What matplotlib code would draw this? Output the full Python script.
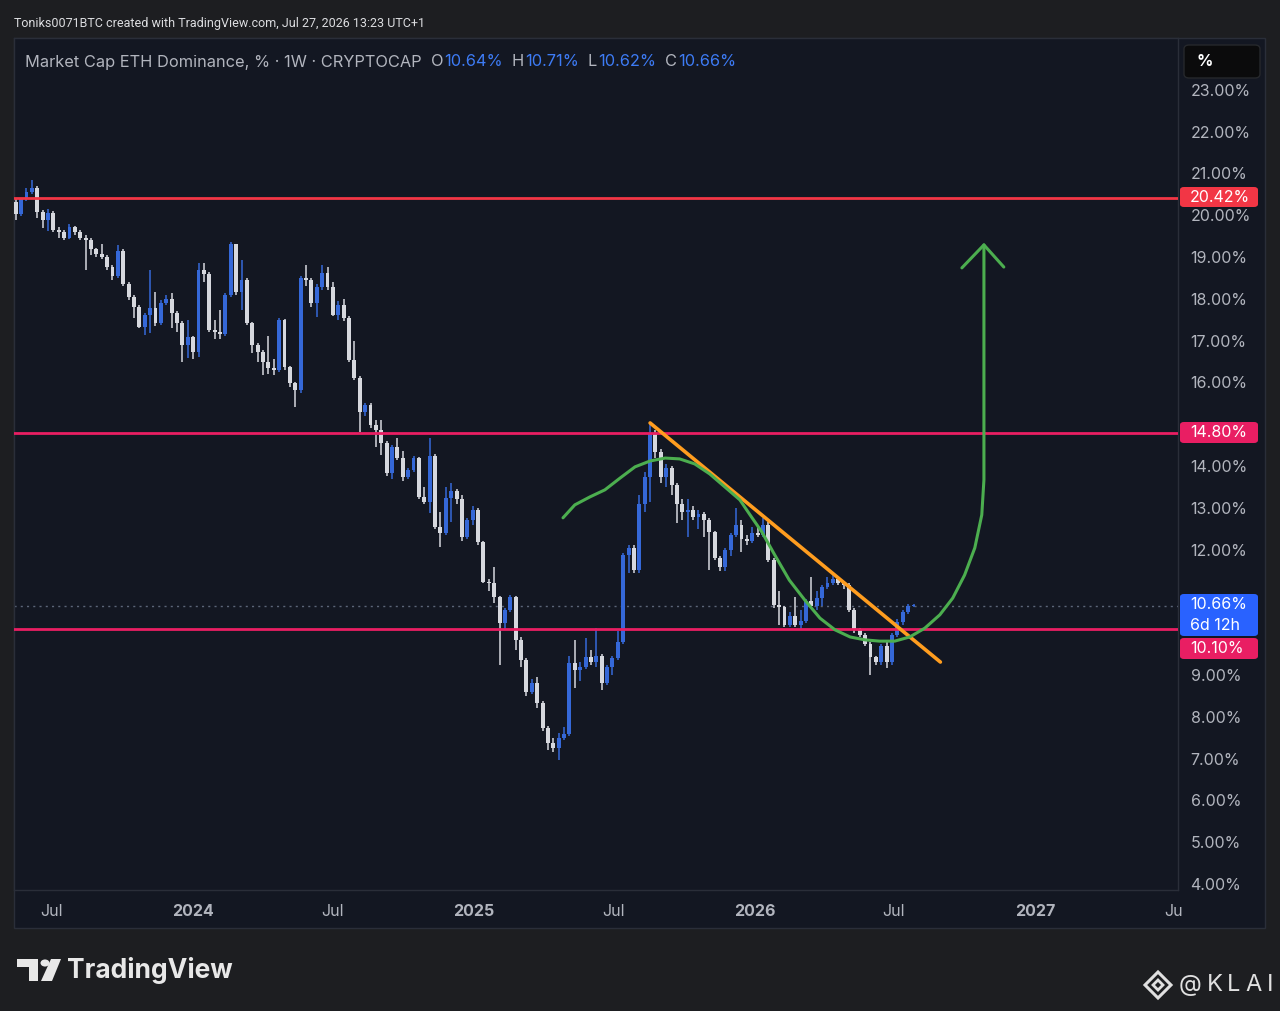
import datetime as dt
import matplotlib
matplotlib.use('Agg')
import matplotlib.pyplot as plt
import matplotlib.dates as mdates
from matplotlib.patches import Rectangle, FancyBboxPatch, Polygon, Circle

W, H = 1280, 1011
plt.rcParams['font.family'] = ['Inter', 'DejaVu Sans']

# weekly candles of ETH dominance (%), first week starts Monday 2023-05-15
first_week = dt.date(2023, 5, 15)
first_open = 20.32
closes = [
    20.04, 20.38, 20.55, 20.65, 20.08, 19.88, 20.05, 19.65, 19.60, 19.45,
    19.72, 19.60, 19.45, 19.40, 19.20, 19.08, 19.00, 18.75, 18.55, 19.14,
    18.35, 18.04, 17.80, 17.33, 17.61, 17.78, 17.42, 17.90, 18.00, 17.66,
    17.42, 16.90, 17.08, 16.73, 18.69, 18.60, 17.25, 17.20, 17.15, 18.10,
    19.30, 18.16, 18.45, 17.42, 16.90, 16.73, 16.49, 16.35, 16.30, 17.50,
    16.37, 15.98, 15.82, 18.50, 18.45, 17.90, 18.28, 18.62, 18.28, 17.61,
    17.85, 17.54, 16.54, 16.10, 15.29, 15.45, 14.98, 14.85, 14.55, 13.83,
    14.45, 14.20, 13.74, 13.90, 14.20, 13.26, 13.14, 14.24, 12.54, 12.40,
    13.23, 13.40, 13.20, 12.30, 12.70, 12.95, 12.18, 11.22, 11.20, 10.87,
    10.24, 10.55, 10.87, 9.84, 9.36, 8.60, 8.80, 8.33, 7.73, 7.37,
    7.25, 7.50, 7.60, 9.29, 9.12, 9.20, 9.43, 9.30, 9.45, 8.80,
    9.20, 9.40, 9.80, 11.87, 12.05, 11.52, 13.10, 13.74, 14.80, 14.33,
    13.74, 13.95, 13.55, 13.10, 12.90, 12.95, 12.78, 12.85, 12.70, 12.42,
    11.80, 11.58, 11.99, 12.35, 12.60, 12.25, 12.20, 12.40, 12.35, 12.60,
    11.75, 10.68, 10.62, 10.20, 10.40, 10.20, 10.30, 10.78, 10.66, 10.85,
    11.10, 11.20, 11.30, 11.20, 11.15, 10.55, 10.08, 9.95, 9.75, 9.43,
    9.30, 9.70, 9.30, 9.95, 10.27, 10.50, 10.64, 10.66,
]
highs = [
    20.41, 20.42, 20.65, 20.84, 20.70, 20.12, 20.15, 20.10, 19.72, 19.65,
    19.78, 19.75, 19.65, 19.52, 19.45, 19.22, 19.30, 19.05, 18.80, 19.29,
    19.20, 18.40, 18.08, 17.85, 17.66, 18.69, 18.16, 17.98, 18.10, 18.14,
    17.70, 17.46, 17.49, 17.12, 18.86, 18.86, 18.65, 17.50, 17.73, 18.15,
    19.35, 19.30, 18.93, 18.50, 17.45, 16.95, 16.78, 17.10, 16.55, 17.55,
    17.52, 16.40, 16.02, 18.55, 18.80, 18.50, 18.35, 18.81, 18.75, 18.40,
    17.95, 18.00, 17.58, 17.00, 16.15, 15.50, 15.50, 15.10, 15.10, 14.60,
    14.50, 14.67, 14.35, 13.95, 14.25, 14.22, 13.50, 14.67, 14.28, 12.90,
    13.50, 13.60, 13.45, 13.30, 12.75, 13.05, 13.00, 12.20, 11.30, 11.58,
    10.90, 10.60, 10.92, 10.90, 9.90, 9.40, 8.90, 8.95, 8.38, 7.78,
    7.50, 7.62, 7.75, 9.45, 9.84, 9.30, 9.88, 9.60, 10.12, 9.50,
    9.25, 9.45, 10.05, 11.92, 12.10, 12.10, 13.30, 13.85, 15.03, 14.85,
    14.40, 14.05, 14.00, 13.60, 13.20, 13.20, 13.05, 12.95, 12.90, 12.75,
    12.45, 11.85, 12.05, 12.40, 13.00, 12.70, 12.35, 12.55, 12.60, 12.75,
    12.65, 11.80, 11.00, 10.65, 10.50, 10.87, 10.55, 10.82, 11.34, 11.00,
    11.15, 11.35, 11.44, 11.35, 11.25, 11.20, 10.60, 10.12, 10.00, 9.80,
    9.45, 9.75, 9.80, 10.00, 10.35, 10.55, 10.70, 10.71,
]
lows = [
    19.88, 19.98, 20.33, 20.50, 19.93, 19.69, 19.62, 19.60, 19.45, 19.40,
    19.42, 19.52, 19.40, 18.69, 19.05, 19.00, 18.95, 18.70, 18.45, 18.50,
    18.30, 17.98, 17.54, 17.30, 17.13, 17.18, 17.36, 17.38, 17.85, 17.30,
    17.20, 16.49, 16.58, 16.55, 16.60, 18.40, 17.20, 17.05, 17.05, 17.10,
    18.05, 18.10, 17.73, 17.38, 16.70, 16.49, 16.18, 16.20, 16.18, 16.25,
    16.30, 15.90, 15.41, 15.75, 18.30, 17.80, 17.56, 18.20, 18.22, 17.58,
    17.50, 17.48, 16.50, 16.05, 14.81, 15.20, 14.92, 14.45, 14.26, 13.75,
    13.70, 14.15, 13.65, 13.70, 13.85, 13.20, 13.10, 12.88, 12.50, 12.06,
    12.35, 12.66, 13.10, 12.20, 12.25, 12.60, 12.10, 11.20, 11.00, 10.72,
    9.24, 10.10, 10.50, 9.60, 9.20, 8.50, 8.55, 8.20, 7.65, 7.20,
    7.15, 6.97, 7.45, 7.55, 8.70, 8.85, 9.15, 9.25, 9.20, 8.64,
    8.75, 9.00, 9.35, 9.75, 11.45, 11.45, 11.45, 12.90, 13.14, 14.20,
    13.60, 13.50, 13.30, 12.64, 12.70, 12.30, 12.70, 12.50, 12.30, 11.51,
    11.75, 11.50, 11.50, 11.85, 12.30, 11.95, 12.10, 12.15, 12.30, 12.30,
    11.70, 10.60, 10.20, 10.15, 10.15, 10.15, 10.10, 10.25, 10.60, 10.55,
    10.65, 11.05, 11.15, 11.15, 11.05, 10.50, 10.00, 9.90, 9.70, 9.00,
    9.25, 9.25, 9.17, 9.25, 9.90, 10.20, 10.45, 10.62,
]
opens = [first_open] + closes[:-1]

levels = [20.42, 14.80, 10.10]
level_colors = ['#f23645', '#e91e63', '#e91e63']
last_price = 10.66
last_ohlc = ['10.64%', '10.71%', '10.62%', '10.66%']

# drawn annotations (week index, value)
trend_weeks = [118, 172]
trend_values = [15.03, 9.31]
curve_weeks = [101.8, 104.0, 106.8, 109.6, 112.4, 115.2, 118.0, 120.8, 123.5, 126.3,
               129.1, 131.9, 134.7, 136.6, 138.8, 141.2, 143.9, 146.8, 149.6, 152.4,
               155.2, 158.0, 160.7, 163.5, 166.3, 169.1, 171.9, 174.3, 176.5, 178.4,
               179.7, 180.1, 180.1]
curve_values = [12.76, 13.07, 13.26, 13.43, 13.71, 13.98, 14.12, 14.19, 14.17, 14.05,
                13.81, 13.50, 13.19, 12.83, 12.42, 11.87, 11.27, 10.79, 10.36, 10.08,
                9.91, 9.84, 9.81, 9.81, 9.91, 10.12, 10.44, 10.84, 11.39, 12.04,
                12.83, 13.67, 19.29]
arrow_weeks = [176.0, 180.1, 183.8]
arrow_values = [18.74, 19.29, 18.76]

# 10, 11 and 15 sit under the price labels
y_ticks = [4, 5, 6, 7, 8, 9, 12, 13, 14, 16, 17, 18, 19, 20, 21, 22, 23]
x_tick_dates = [dt.date(2023, 7, 1), dt.date(2024, 1, 1), dt.date(2024, 7, 1),
                dt.date(2025, 1, 1), dt.date(2025, 7, 1), dt.date(2026, 1, 1),
                dt.date(2026, 7, 1), dt.date(2027, 1, 1), dt.date(2027, 7, 1)]
x_tick_labels = ['Jul', '2024', 'Jul', '2025', 'Jul', '2026', 'Jul', '2027', 'Ju']

BG = '#1d1e21'
PANEL = '#131722'
TXT = '#b2b5be'
UP = '#3568d8'
DOWN = '#d6d8de'


def fx(x):
    return x / W


def fy(y):
    return 1 - y / H


d0 = mdates.date2num(first_week)


def wk(i):
    return d0 + 7 * i


fig = plt.figure(figsize=(W / 100, H / 100), dpi=100, facecolor=BG)
fig.patches.append(Rectangle((fx(14), fy(928)), fx(1265 - 14), (928 - 38) / H,
                             transform=fig.transFigure, facecolor=PANEL,
                             edgecolor='#2a2e39', lw=1, zorder=-5))

ax = fig.add_axes([fx(14), fy(890), fx(1178 - 14), (890 - 38) / H])
ax.set_zorder(1)
ax.set_facecolor(PANEL)
for s in ax.spines.values():
    s.set_color('#2a2e39')
    s.set_linewidth(1)

cols = [UP if c >= o else DOWN for o, c in zip(opens, closes)]
xs = [wk(i) for i in range(len(closes))]
ax.vlines(xs, lows, highs, colors=cols, lw=1.1, zorder=3)
ax.bar(xs, [max(abs(c - o), 0.03) for o, c in zip(opens, closes)],
       bottom=[min(o, c) for o, c in zip(opens, closes)], width=5.1,
       color=cols, lw=0, zorder=4)

for lv, col in zip(levels, level_colors):
    ax.axhline(lv, color=col, lw=2, zorder=5)
ax.axhline(last_price, color='#5b6578', lw=1, ls=(0, (1.5, 3)), zorder=2)

ax.plot([wk(i) for i in trend_weeks], trend_values, color='#ff9d1f', lw=2.6,
        solid_capstyle='round', zorder=6)
ax.plot([wk(i) for i in curve_weeks], curve_values, color='#4cae4f', lw=2.2,
        solid_capstyle='round', solid_joinstyle='round', zorder=6)
ax.plot([wk(i) for i in arrow_weeks], arrow_values, color='#4cae4f', lw=2.2,
        solid_capstyle='round', solid_joinstyle='round', zorder=6)

ax.set_xlim(wk(-0.32), wk(216.2))
ax.set_ylim(3.856, 24.24)

ax.yaxis.tick_right()
ax.set_yticks(y_ticks)
ax.set_yticklabels(['%.2f%%' % v for v in y_ticks])
ax.tick_params(axis='y', length=0, pad=9, labelsize=11.5, labelcolor=TXT)
ax.set_xticks([mdates.date2num(d) for d in x_tick_dates])
ax.set_xticklabels(x_tick_labels)
ax.tick_params(axis='x', length=0, pad=10, labelsize=11.5, labelcolor=TXT)
for lab in ax.get_xticklabels():
    if lab.get_text().isdigit():
        lab.set_fontweight('bold')
ax.grid(False)


# price labels on the right scale
def price_box(y_top, y_bot, color, lines):
    fig.patches.append(FancyBboxPatch((fx(1180), fy(y_bot)), fx(78), (y_bot - y_top) / H,
                                      boxstyle='round,pad=0,rounding_size=0.003',
                                      transform=fig.transFigure, facecolor=color,
                                      edgecolor='none', zorder=5))
    n = len(lines)
    for k, s in enumerate(lines):
        yc = y_top + (y_bot - y_top) * (k + 0.5) / n
        fig.text(fx(1190), fy(yc), s, color='white', fontsize=11.5, va='center',
                 ha='left', zorder=6)


price_box(187, 207, level_colors[0], ['%.2f%%' % levels[0]])
price_box(422, 443, level_colors[1], ['%.2f%%' % levels[1]])
price_box(594, 636, '#2962ff', ['%.2f%%' % last_price, '6d 12h'])
price_box(638, 659, level_colors[2], ['%.2f%%' % levels[2]])

fig.patches.append(FancyBboxPatch((fx(1184), fy(78)), fx(76), 33 / H,
                                  boxstyle='round,pad=0,rounding_size=0.004',
                                  transform=fig.transFigure, facecolor='#0b0b0c',
                                  edgecolor='#26282c', lw=1, zorder=5))
fig.text(fx(1196), fy(61), '%', color='white', fontsize=11.5, fontweight='bold',
         va='center', zorder=6)

# header texts
fig.text(fx(14), fy(24), 'Toniks0071BTC created with TradingView.com, Jul 27, 2026 13:23 UTC+1',
         color='#dcdde0', fontsize=9.0, va='center', family=['Roboto', 'DejaVu Sans'])

renderer = fig.canvas.get_renderer()
pieces = [('Market Cap ETH Dominance, % · 1W · CRYPTOCAP', TXT, 9)]
for letter, val in zip('OHLC', last_ohlc):
    pieces.append((letter, TXT, 1))
    pieces.append((val, '#3d7bf5', 9))
x = 25
for s, col, gap in pieces:
    t = fig.text(fx(x), fy(62), s, color=col, fontsize=11.8, va='center', zorder=6)
    x += t.get_window_extent(renderer=renderer).width + gap

# TradingView logo
logo = dict(transform=fig.transFigure, facecolor='#e8e8e8', edgecolor='none')
fig.patches.append(Polygon([(fx(17), fy(959)), (fx(38), fy(959)), (fx(38), fy(981)),
                            (fx(29), fy(981)), (fx(29), fy(967)), (fx(17), fy(967))], **logo))
fig.patches.append(Circle((fx(45), fy(963)), 4.5 / W, **logo))
fig.patches.append(Polygon([(fx(51), fy(959)), (fx(61), fy(959)), (fx(52), fy(981)),
                            (fx(41), fy(981))], **logo))
fig.text(fx(67), fy(970), 'TradingView', color='#e8e8e8', fontsize=19,
         fontweight='bold', va='center')

# watermark
cx, cy = 1158, 985
for r, lw in [(13, 2.2), (5, 2.0)]:
    fig.patches.append(Polygon([(fx(cx - r), fy(cy)), (fx(cx), fy(cy - r)),
                                (fx(cx + r), fy(cy)), (fx(cx), fy(cy + r))],
                               closed=True, transform=fig.transFigure,
                               facecolor='none', edgecolor='#e0e0e0', lw=lw))
for ch, px in zip('@KLAI', [1190, 1215, 1234, 1254, 1270]):
    fig.text(fx(px), fy(985), ch, color='#e0e0e0', fontsize=17, ha='center', va='center')

fig.savefig('out.png', dpi=100, facecolor=BG)
